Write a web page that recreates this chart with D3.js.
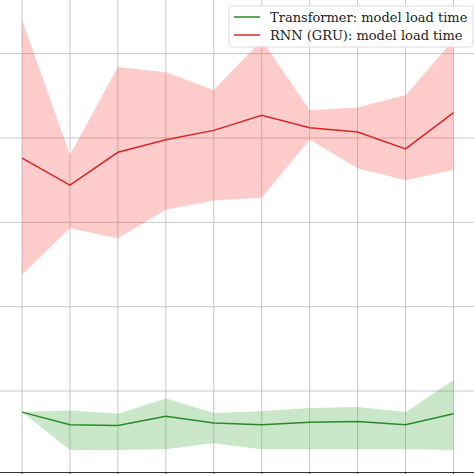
<!DOCTYPE html>
<html><head><meta charset="utf-8">
<script src="https://cdn.jsdelivr.net/npm/d3@7"></script>
<style>body{margin:0;background:#fff}svg{display:block}</style>
</head><body>
<script>
var xs = [0,1,2,3,4,5,6,7,8,9];
var yTicks = [1,2,3,4,5];
var rnnMean  = [3.76,3.44,3.83,3.98,4.09,4.27,4.12,4.07,3.87,4.30];
var rnnUpper = [5.40,3.80,4.84,4.78,4.57,5.16,4.33,4.36,4.51,5.16];
var rnnLower = [2.38,2.93,2.81,3.15,3.26,3.29,3.98,3.64,3.50,3.62];
var trMean   = [0.75,0.60,0.59,0.70,0.62,0.60,0.63,0.64,0.60,0.73];
var trUpper  = [0.75,0.77,0.73,0.91,0.74,0.76,0.80,0.81,0.75,1.13];
var trLower  = [0.75,0.30,0.30,0.31,0.38,0.31,0.31,0.31,0.31,0.30];
var labels = ["Transformer: model load time","RNN (GRU): model load time"];

var W = 474, H = 474;
var svg = d3.select("body").append("svg").attr("width", W).attr("height", H);
var x = d3.scaleLinear().domain([0,9]).range([22,453.5]);
var y = d3.scaleLinear().domain([0.04,5.6]).range([472,3]);

// grid
svg.append("g").selectAll("line").data(xs).join("line")
  .attr("x1", d => x(d)).attr("x2", d => x(d)).attr("y1", 0).attr("y2", 472)
  .attr("stroke", "#c8c8c8").attr("stroke-width", 1);
svg.append("g").selectAll("line").data(yTicks).join("line")
  .attr("x1", 0).attr("x2", W).attr("y1", d => y(d)).attr("y2", d => y(d))
  .attr("stroke", "#c8c8c8").attr("stroke-width", 1);

function band(up, lo, col) {
  var a = d3.area().x((d, i) => x(xs[i])).y0((d, i) => y(lo[i])).y1(d => y(d));
  svg.append("path").datum(up).attr("d", a).attr("fill", col).attr("opacity", 0.25);
}
function line(v, col) {
  var l = d3.line().x((d, i) => x(xs[i])).y(d => y(d));
  svg.append("path").datum(v).attr("d", l).attr("fill", "none").attr("stroke", col).attr("stroke-width", 1.5);
}
band(rnnUpper, rnnLower, "#ff3333");
band(trUpper, trLower, "#2ca02c");
line(rnnMean, "#d62728");
line(trMean, "#2a8a2a");

// bottom axis
svg.append("line").attr("x1", 0).attr("x2", W).attr("y1", 472.5).attr("y2", 472.5).attr("stroke", "#333");
svg.append("g").selectAll("line").data(xs).join("line")
  .attr("x1", d => x(d)).attr("x2", d => x(d)).attr("y1", 472).attr("y2", 478).attr("stroke", "#333");

// legend
var lg = svg.append("g");
lg.append("rect").attr("x", 229).attr("y", 6).attr("width", 244).attr("height", 41).attr("rx", 3)
  .attr("fill", "#fff").attr("fill-opacity", 0.85).attr("stroke", "#ddd");
[["#2a8a2a", labels[0]], ["#d62728", labels[1]]].forEach(function (d, i) {
  var yy = 17 + i * 18;
  lg.append("line").attr("x1", 234).attr("x2", 260).attr("y1", yy).attr("y2", yy).attr("stroke", d[0]).attr("stroke-width", 1.5);
  lg.append("text").attr("x", 270).attr("y", yy + 4.5).text(d[1])
    .attr("font-family", "DejaVu Serif").attr("font-size", 13).attr("fill", "#222");
});
</script>
</body></html>
